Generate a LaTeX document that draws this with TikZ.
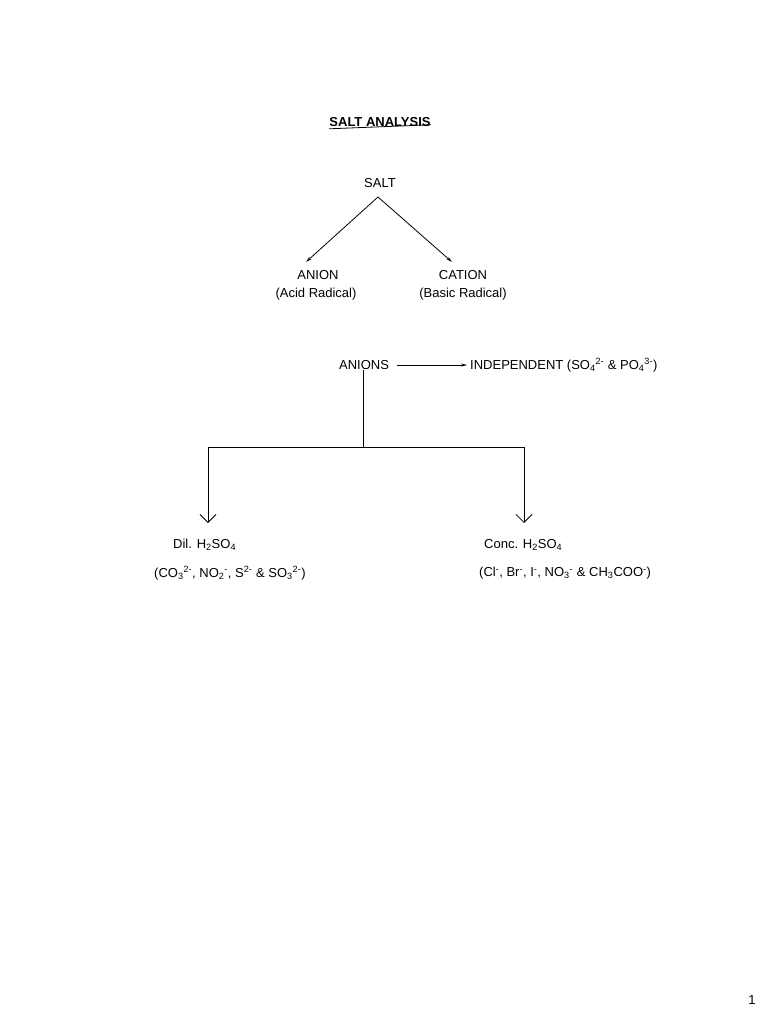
\documentclass[tikz,border=0pt]{standalone}
\usepackage{fontspec}
\setmainfont{Liberation Sans}
\usetikzlibrary{arrows.meta}
\newcommand{\sbs}[1]{\textsubscript{#1}}
\newcommand{\sps}[1]{\textsuperscript{#1}}
\begin{document}
\begin{tikzpicture}[x=1pt,y=-1pt,
  lbl/.style={inner sep=0pt,font=\fontsize{13}{15}\selectfont},
  conn/.style={line width=0.8pt},
  sharp/.style={conn,-{Stealth[length=6pt,width=3pt]}},
  vhead/.style={conn,-{Straight Barb[length=8pt,width=16pt]}}]
\useasboundingbox[fill=white] (0,0) rectangle (768,1024);
\node[lbl,font=\bfseries\fontsize{13}{15}\selectfont] (title) at (380,122) {SALT ANALYSIS};
\draw[line width=0.8pt] (title.south west)++(0,2) -- ([yshift=2pt]title.south east);
\node[lbl] (salt) at (380,183) {SALT};
\coordinate (top) at (378,197);
\node[lbl] (anion) at (318,275) {ANION};
\node[lbl] (acid) at (316,294) {(Acid Radical)};
\node[lbl] (cation) at (463,275) {CATION};
\node[lbl] (basic) at (463,294) {(Basic Radical)};
\draw[sharp] (top) -- (306,262);
\draw[sharp] (top) -- (452,262);
\node[lbl] (anions) at (364,365) {ANIONS};
\node[lbl,anchor=west] (indep) at (470,365) {INDEPENDENT (SO\sbs{4}\sps{2-} \& PO\sbs{4}\sps{3-})};
\draw[sharp] ([xshift=8pt]anions.east) -- ([xshift=-3pt]indep.west);
\coordinate (mid) at (363,447);
\coordinate (l) at (208,447);
\coordinate (r) at (524,447);
\coordinate (la) at (208,523);
\coordinate (ra) at (524,523);
\draw[conn] (anions.south -| mid) -- (mid);
\draw[conn] (l) -- (r);
\draw[vhead] (l) -- (la);
\draw[vhead] (r) -- (ra);
\node[lbl,anchor=west] (dil) at (173,545) {Dil. H\sbs{2}SO\sbs{4}};
\node[lbl,anchor=west] (dilions) at (154,573) {(CO\sbs{3}\sps{2-}, NO\sbs{2}\sps{-}, S\sps{2-} \& SO\sbs{3}\sps{2-})};
\node[lbl,anchor=west] (conc) at (484,545) {Conc. H\sbs{2}SO\sbs{4}};
\node[lbl,anchor=west] (concions) at (479,573) {(Cl\sps{-}, Br\sps{-}, I\sps{-}, NO\sbs{3}\sps{-} \& CH\sbs{3}COO\sps{-})};
\node[lbl] (page) at (752,1000) {1};
\end{tikzpicture}
\end{document}
